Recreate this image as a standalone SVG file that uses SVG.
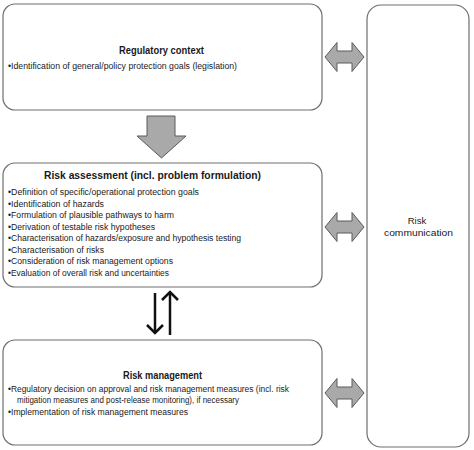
<svg xmlns="http://www.w3.org/2000/svg" width="474" height="450" viewBox="0 0 474 450">
<style>
.box{fill:#fff;stroke:#6e6e6e;stroke-width:1.2}
.t{font-family:"Liberation Sans",Arial,sans-serif;font-weight:bold;font-size:10px;fill:#1a1a1a}
.b{font-family:"Liberation Sans",Arial,sans-serif;font-size:8.5px;fill:#1a1a1a}
.c{font-family:"Liberation Sans",Arial,sans-serif;font-size:9.5px;fill:#1a1a1a}
.g{fill:#a9a9a9;stroke:#5a5a5a;stroke-width:1}
.k{fill:none;stroke:#111;stroke-width:2.5}
</style>
<defs>
<marker id="v" markerUnits="userSpaceOnUse" viewBox="0 0 20 20" markerWidth="20" markerHeight="20" refX="10" refY="10" orient="auto">
<path d="M2,2 L10,10 L2,18" fill="none" stroke="#111" stroke-width="2.5"/>
</marker>
<path id="dbl" class="g" d="M-19.5,0 L-7.5,-14.5 L-7.5,-6 L7.5,-6 L7.5,-14.5 L19.5,0 L7.5,14.5 L7.5,6 L-7.5,6 L-7.5,14.5 Z"/>
</defs>
<g id="regulatory-context">
<rect class="box" x="3" y="4" width="319" height="106" rx="12"/>
<text class="t" x="161.5" y="53.5" text-anchor="middle" textLength="85" lengthAdjust="spacingAndGlyphs">Regulatory context</text>
<text class="b" x="8" y="68.5" textLength="229" lengthAdjust="spacingAndGlyphs">•Identification of general/policy protection goals (legislation)</text>
</g>
<g id="risk-assessment">
<rect class="box" x="3" y="163" width="319" height="124" rx="12"/>
<text class="t" x="152.5" y="179" text-anchor="middle" textLength="217" lengthAdjust="spacingAndGlyphs">Risk assessment (incl. problem formulation)</text>
<text class="b" x="8" y="195" textLength="191" lengthAdjust="spacingAndGlyphs">•Definition of specific/operational protection goals</text>
<text class="b" x="8" y="206.5" textLength="96" lengthAdjust="spacingAndGlyphs">•Identification of hazards</text>
<text class="b" x="8" y="218" textLength="166" lengthAdjust="spacingAndGlyphs">•Formulation of plausible pathways to harm</text>
<text class="b" x="8" y="229.5" textLength="147" lengthAdjust="spacingAndGlyphs">•Derivation of testable risk hypotheses</text>
<text class="b" x="8" y="241" textLength="233" lengthAdjust="spacingAndGlyphs">•Characterisation of hazards/exposure and hypothesis testing</text>
<text class="b" x="8" y="252.5" textLength="96" lengthAdjust="spacingAndGlyphs">•Characterisation of risks</text>
<text class="b" x="8" y="264" textLength="165" lengthAdjust="spacingAndGlyphs">•Consideration of risk management options</text>
<text class="b" x="8" y="275.5" textLength="161" lengthAdjust="spacingAndGlyphs">•Evaluation of overall risk and uncertainties</text>
</g>
<g id="risk-management">
<rect class="box" x="3" y="340" width="319" height="105" rx="12"/>
<text class="t" x="162.5" y="378.5" text-anchor="middle" textLength="79" lengthAdjust="spacingAndGlyphs">Risk management</text>
<text class="b" x="8" y="392" textLength="281" lengthAdjust="spacingAndGlyphs">•Regulatory decision on approval and risk management measures (incl. risk</text>
<text class="b" x="17" y="402.5" textLength="222" lengthAdjust="spacingAndGlyphs">mitigation measures and post-release monitoring), if necessary</text>
<text class="b" x="8" y="414.5" textLength="180" lengthAdjust="spacingAndGlyphs">•Implementation of risk management measures</text>
</g>
<g id="risk-communication">
<rect class="box" x="367" y="5" width="102" height="442" rx="14"/>
<text class="c" x="417" y="223.5" text-anchor="middle">Risk</text>
<text class="c" x="418.5" y="235.5" text-anchor="middle" textLength="69" lengthAdjust="spacingAndGlyphs">communication</text>
</g>
<g id="connectors">
<path class="g" d="M147,116 L175,116 L175,136 L186,136 L161.5,158 L137,136 L147,136 Z"/>
<use href="#dbl" transform="translate(344.5,57)"/>
<use href="#dbl" transform="translate(344.5,227)"/>
<use href="#dbl" transform="translate(344.5,393)"/>
<path class="k" d="M155,293 L155,333" marker-end="url(#v)"/>
<path class="k" d="M170,335 L170,292" marker-end="url(#v)"/>
</g>
</svg>
